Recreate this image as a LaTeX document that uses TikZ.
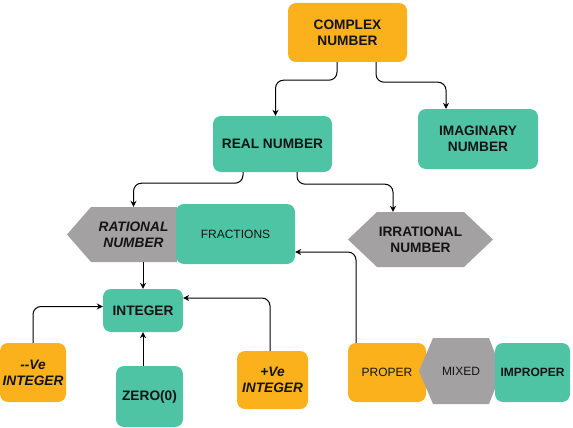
\documentclass[tikz,border=0pt]{standalone}
\usepackage{fontspec}
\setmainfont{Liberation Sans}
\usetikzlibrary{arrows.meta}
\definecolor{numorange}{HTML}{FBB11B}
\definecolor{numteal}{HTML}{4EC4A4}
\definecolor{numgray}{HTML}{A3A1A2}
\definecolor{numtext}{HTML}{141414}
\begin{document}
\begin{tikzpicture}[x=1pt,y=-1pt,
    box/.style={rounded corners=8pt,inner sep=0pt,align=center,text=numtext,
                font=\fontsize{13.7}{16}\selectfont\bfseries},
    orangebox/.style={box,fill=numorange},
    tealbox/.style={box,fill=numteal},
    plain/.style={font=\fontsize{12}{14}\selectfont},
    label/.style={inner sep=0pt,align=center,text=numtext,
                  font=\fontsize{13.7}{16}\selectfont\bfseries},
    slanted/.style={font=\fontsize{13.7}{16}\selectfont\bfseries\itshape},
    link/.style={-{Stealth[length=6pt,width=6pt]},line width=1pt,rounded corners=8pt}]
            \useasboundingbox (0,0) rectangle (573,428);

            % Draw top level
            \node[orangebox,minimum width=119pt,minimum height=59pt] (complex) at (347.5,32.5) {COMPLEX\\NUMBER};
            \node[tealbox,minimum width=119pt,minimum height=56pt] (real) at (272.5,144) {REAL NUMBER};
            \node[tealbox,minimum width=120pt,minimum height=60pt] (imag) at (478,139) {IMAGINARY\\NUMBER};

            % Draw rational and irrational
            \fill[numgray] (67,234.5) -- (91,207) -- (177,207) -- (177,262) -- (91,262) -- cycle;
            \node[label,slanted,minimum width=85pt,minimum height=55pt] (rat) at (133.5,234.5) {RATIONAL\\NUMBER};
            \node[tealbox,plain,minimum width=119pt,minimum height=60pt] (frac) at (235.5,234) {FRACTIONS};
            \fill[numgray] (348,239.5) -- (377,212) -- (464,212) -- (493,239.5) -- (464,267) -- (377,267) -- cycle;
            \node[label,minimum width=87pt,minimum height=55pt] (irr) at (420.5,239.5) {IRRATIONAL\\NUMBER};

            % Draw integers
            \node[tealbox,minimum width=80pt,minimum height=43pt] (int) at (143,310.5) {INTEGER};
            \node[orangebox,slanted,minimum width=66pt,minimum height=59pt] (neg) at (33,372.5) {{-}{-}Ve\\INTEGER};
            \node[tealbox,minimum width=67pt,minimum height=61pt] (zero) at (149.5,396.5) {ZERO(0)};
            \node[orangebox,slanted,minimum width=71pt,minimum height=58pt] (pos) at (272.5,380) {+Ve\\INTEGER};

            % Draw fraction kinds
            \node[orangebox,plain,minimum width=78pt,minimum height=59pt] (proper) at (387,372.5) {PROPER};
            \fill[numgray] (419,371) -- (433,338) -- (489,338) -- (502,371) -- (489,404) -- (433,404) -- cycle;
            \node[label,plain,minimum width=56pt,minimum height=60pt] (mixed) at (461,371) {MIXED};
            \node[tealbox,font=\fontsize{12}{14}\selectfont\bfseries,minimum width=75pt,minimum height=59pt] (improper) at (532.5,372.5) {IMPROPER};

            % Draw arrows
            \draw[link] ([xshift=-10.5pt]complex.south) -- ++(0,18) -| ([xshift=3pt]real.north);
            \draw[link] ([xshift=28.5pt]complex.south) -- ++(0,20) -| ([xshift=-32pt]imag.north);
            \draw[link] ([xshift=-29.5pt]real.south) -- ++(0,11) -| (rat.north);
            \draw[link] ([xshift=24.5pt]real.south) -- ++(0,12) -| ([xshift=-27.5pt]irr.north);
            \draw[link] (rat.south -| int.north) -- (int.north);
            \draw[link] ([xshift=-31pt]proper.north) |- ([yshift=-18pt]frac.east);
            \draw[link] (neg.north) |- ([yshift=4pt]int.west);
            \draw[link] (zero.north -| int.south) -- (int.south);
            \draw[link] ([xshift=-2.5pt]pos.north) |- ([yshift=12.5pt]int.east);
        \end{tikzpicture}
\end{document}
